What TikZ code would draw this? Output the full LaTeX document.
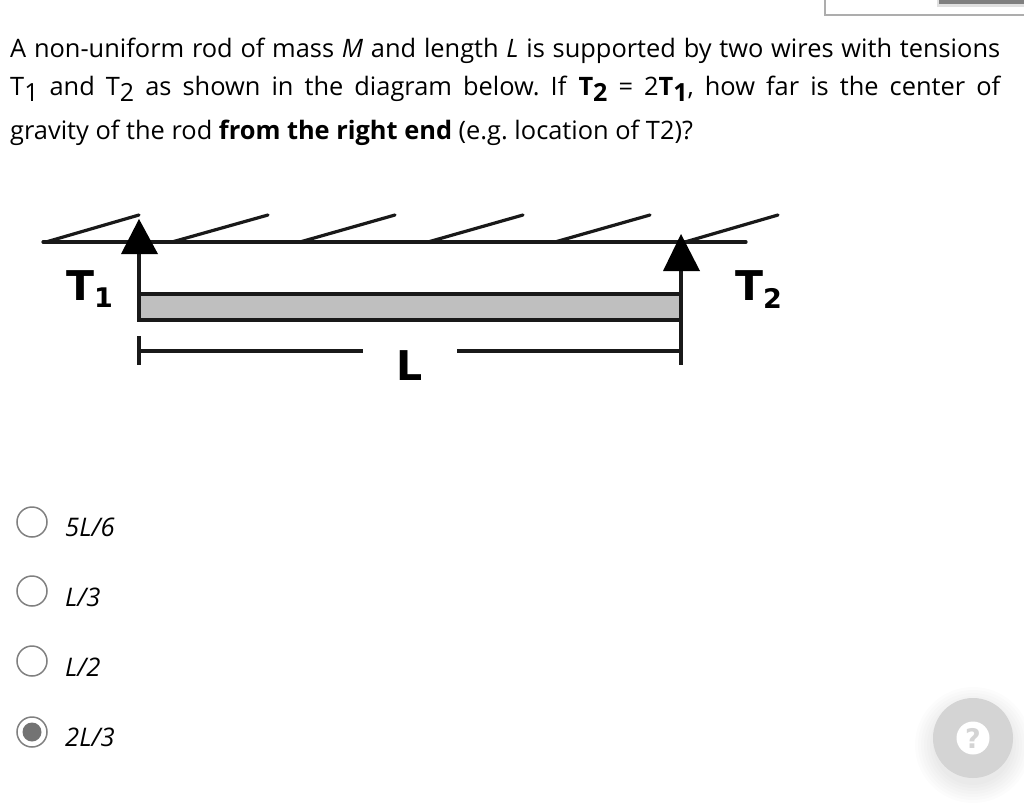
\documentclass[tikz,border=0pt]{standalone}
\usepackage{fontspec}
\setmainfont{Open Sans}
\newfontfamily\figfont{DejaVu Sans}
\frenchspacing
\tikzset{
  x=1pt,y=-1pt,
  qtext/.style={anchor=base west,inner sep=0pt,font=\fontsize{25.4}{30}\selectfont},
  choice/.style={anchor=base west,inner sep=0pt,font=\fontsize{25.6}{30}\selectfont\itshape},
  figlabel/.style={anchor=base west,inner sep=0pt,font=\figfont\bfseries\fontsize{41}{43}\selectfont},
  figsub/.style={anchor=base west,inner sep=0pt,font=\figfont\bfseries\fontsize{27}{29}\selectfont},
  thick line/.style={line width=3.4pt,black!90},
  hatchline/.style={line width=3.2pt,black!90,line cap=round},
  radio/.style={circle,draw=black!50,line width=1.5pt,fill=white,minimum size=30pt,inner sep=0pt},
}
\newcommand{\subt}[1]{\raisebox{-0.22em}{\fontsize{25}{30}\selectfont #1}}
\begin{document}
\begin{tikzpicture}
\useasboundingbox (0,0) rectangle (1024,805);
\fill[white] (0,0) rectangle (1024,805);
% top-right fragments
\draw[black!32,line width=1.2pt] (825,0) -- (825,15) -- (1024,15);
\fill[black!12] (937,0) rectangle (1024,7);
\fill[black!50] (939,0) rectangle (1024,4);
% question text
\node[qtext] (l1) at (10,57.5) {\makebox[990pt][s]{A non-uniform rod of mass \textit{M} and length \textit{L} is supported by two wires with tensions}};
\node[qtext] (l2) at (10,96) {\makebox[990pt][s]{T\subt{1} and T\subt{2} as shown in the diagram below. If \textbf{T\subt{\textbf{2}}} = 2\textbf{T\subt{\textbf{1}}}, how far is the center of}};
\node[qtext] (l3) at (10,140) {gravity of the rod \textbf{from the right end} (e.g. location of T2)?};
% ceiling
\draw[hatchline] (43,242) -- (746,242);
\foreach \xa/\xb in {46/139,172/268,300/395,428/523,555/650,685/778}
  \draw[hatchline] (\xa,242) -- (\xb,215);
% rod
\fill[black!25] (139,294) rectangle (681,320);
\draw[thick line] (139,294) -- (681,294);
\draw[thick line] (139,320) -- (681,320);
% wires + arrowheads
\draw[thick line] (139,253) -- (139,321.7);
\draw[thick line] (681,271) -- (681,365);
\fill[black] (139,219) -- (158,254) -- (121,254) -- cycle;
\fill[black] (681,234) -- (700,271) -- (663,271) -- cycle;
% dimension
\draw[thick line] (139,336) -- (139,365);
\draw[thick line] (139,351) -- (363,351);
\draw[thick line] (457,351) -- (681,351);
% figure labels
\node[figlabel] (t1) at (66,300) {T};
\node[figsub] (s1) at (94,307) {1};
\node[figlabel] (t2) at (735,300) {T};
\node[figsub] (s2) at (763,308) {2};
\node[figlabel] (len) at (396,380) {L};
% choices
\node[radio] (r1) at (32,522) {};
\node[radio] (r2) at (32,591) {};
\node[radio] (r3) at (32,661) {};
\node[radio] (r4) at (32,732) {};
\fill[black!55] (r4.center) circle (9.5);
\node[choice] (c1) at (65,536) {5\textit{L}/6};
\node[choice] (c2) at (65,606) {\textit{L}/3};
\node[choice] (c3) at (65,676) {\textit{L}/2};
\node[choice] (c4) at (65,746) {2\textit{L}/3};
% help button
\foreach \r in {58,55,...,40}
  \fill[black,opacity=0.012] (973,745) circle (\r);
\fill[black!17] (973,738) circle (40);
\fill[white] (973,738) circle (16.5);
\node[inner sep=0pt,text=black!17,font=\figfont\bfseries\fontsize{27}{29}\selectfont] (help) at (973,738) {?};
\end{tikzpicture}
\end{document}
